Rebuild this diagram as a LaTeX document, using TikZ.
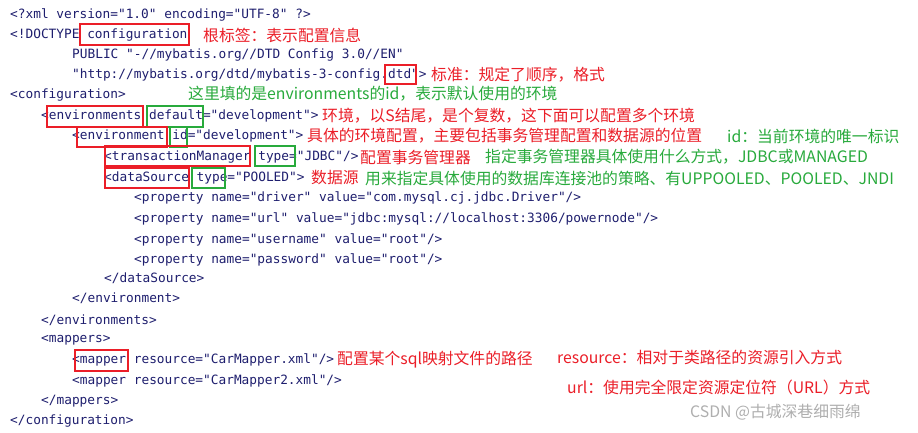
\documentclass[tikz,border=0pt]{standalone}
\usepackage{fontspec}
\newfontfamily\codefont{DejaVu Sans Mono}
\newfontfamily\cjk{Noto Sans CJK SC}
\definecolor{codec}{RGB}{30,30,110}
\definecolor{rd}{RGB}{235,30,40}
\definecolor{gr}{RGB}{40,170,60}
\definecolor{wm}{RGB}{175,175,175}
\begin{document}
\begin{tikzpicture}[x=1pt,y=-1pt,
  code/.style={anchor=west,inner sep=0pt,text=codec,font=\codefont\fontsize{12.8}{14}\selectfont},
  note/.style={anchor=west,inner sep=0pt,font=\cjk\fontsize{15.8}{17}\selectfont},
  rnote/.style={note,text=rd},
  gnote/.style={note,text=gr},
  rbox/.style={draw=rd,line width=1.5pt},
  gbox/.style={draw=gr,line width=1.5pt}]
\useasboundingbox[fill=white] (0,0) rectangle (918,432);
\node[code] (l1) at (10,15) {<?xml version="1.0" encoding="UTF-8" ?>};
\node[code] (l2) at (10,35) {<!DOCTYPE configuration};
\node[code] (l3) at (72,55) {PUBLIC "-//mybatis.org//DTD Config 3.0//EN"};
\node[code] (l4) at (72,75) {"http://mybatis.org/dtd/mybatis-3-config.dtd">};
\node[code] (l5) at (10,95) {<configuration>};
\node[code] (l6) at (41,116) {<environments default="development">};
\node[code] (l7) at (72,136) {<environment id="development">};
\node[code] (l8) at (104,157) {<transactionManager type="JDBC"/>};
\node[code] (l9) at (104,178) {<dataSource type="POOLED">};
\node[code] (l10) at (134,198) {<property name="driver" value="com.mysql.cj.jdbc.Driver"/>};
\node[code] (l11) at (134,219) {<property name="url" value="jdbc:mysql://localhost:3306/powernode"/>};
\node[code] (l12) at (134,240) {<property name="username" value="root"/>};
\node[code] (l13) at (134,260) {<property name="password" value="root"/>};
\node[code] (l14) at (104,278) {</dataSource>};
\node[code] (l15) at (72,298) {</environment>};
\node[code] (l16) at (41,320) {</environments>};
\node[code] (l17) at (41,340) {<mappers>};
\node[code] (l18) at (72,360) {<mapper resource="CarMapper.xml"/>};
\node[code] (l19) at (72,381) {<mapper resource="CarMapper2.xml"/>};
\node[code] (l20) at (41,401) {</mappers>};
\node[code] (l21) at (10,421) {</configuration>};
% boxes
\draw[rbox] (80,24) rectangle (189,45);
\draw[rbox] (385,65) rectangle (416,84);
\draw[rbox] (47,106) rectangle (143,127);
\draw[gbox] (147,106) rectangle (203,127);
\draw[rbox] (77,127) rectangle (167,147);
\draw[gbox] (170,127) rectangle (187,147);
\draw[rbox] (105,146) rectangle (250,166);
\draw[gbox] (255,146) rectangle (295,166);
\draw[rbox] (105,168) rectangle (189,188);
\draw[gbox] (192,168) rectangle (225,188);
\draw[rbox] (75,350) rectangle (128,371);
% notes
\node[rnote] (n1) at (203,35) {根标签：表示配置信息};
\node[rnote] (n2) at (431,75) {标准：规定了顺序，格式};
\node[gnote] (n3) at (188,94) {这里填的是environments的id，表示默认使用的环境};
\node[rnote] (n4) at (322,116) {环境，以S结尾，是个复数，这下面可以配置多个环境};
\node[rnote] (n5) at (307,136) {具体的环境配置，主要包括事务管理配置和数据源的位置};
\node[gnote] (n6) at (727,136) {id：当前环境的唯一标识};
\node[rnote] (n7) at (360,157) {配置事务管理器};
\node[gnote] (n8) at (485,157) {指定事务管理器具体使用什么方式，JDBC或MANAGED};
\node[rnote] (n9) at (311,178) {数据源};
\node[gnote] (n10) at (365,178) {用来指定具体使用的数据库连接池的策略、有UPPOOLED、POOLED、JNDI};
\node[rnote] (n11) at (337,360) {配置某个sql映射文件的路径};
\node[rnote] (n12) at (557,357) {resource：相对于类路径的资源引入方式};
\node[rnote] (n13) at (567,387) {url：使用完全限定资源定位符（URL）方式};
\node[note,text=wm] (wm) at (690,412) {CSDN @古城深巷细雨绵};
\end{tikzpicture}
\end{document}
